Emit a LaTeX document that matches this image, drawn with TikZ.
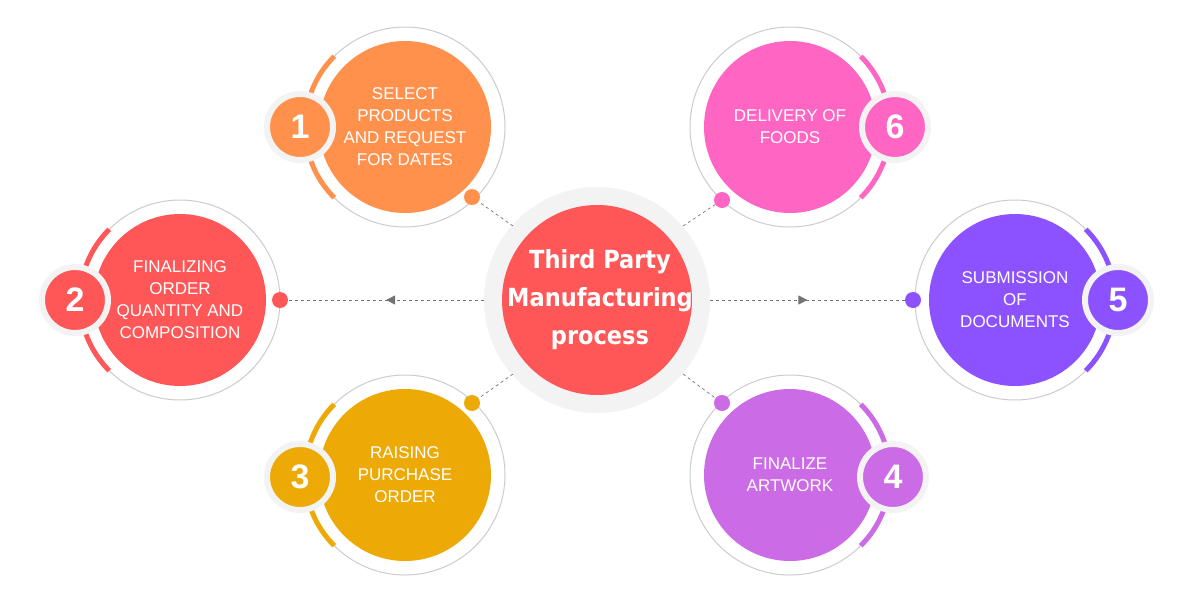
\documentclass[tikz,border=0pt]{standalone}
\usepackage{fontspec}
\setmainfont{Liberation Sans}
\newfontfamily\titlefont{DejaVu Sans Condensed}
\usetikzlibrary{arrows.meta,decorations.markings}
\definecolor{cOne}{HTML}{FF914D}
\definecolor{cTwo}{HTML}{FF5757}
\definecolor{cThree}{HTML}{EDA906}
\definecolor{cFour}{HTML}{CB6CE6}
\definecolor{cFive}{HTML}{8C52FF}
\definecolor{cSix}{HTML}{FF66C4}
\definecolor{ringgray}{HTML}{F3F3F3}
\tikzset{
 bigc/.style={circle,minimum size=172pt,inner sep=0pt,text=white,align=center,font=\fontsize{17}{22}\selectfont},
 numc/.style={circle,minimum size=66pt,inner sep=0pt,text=white,draw=ringgray,line width=6pt,font=\fontsize{34}{34}\selectfont\bfseries},
 dotc/.style={circle,minimum size=16pt,inner sep=0pt},
 ring/.style={draw=black!20,line width=1pt},
 conn/.style={draw=black!55,dashed,line width=0.7pt},
 arrmid/.style={postaction={decorate},decoration={markings,mark=at position 0.5 with {\arrow{Triangle[length=9pt,width=9pt]}}}}
}
\newcommand\leftarc[2]{\draw[#1,line width=5pt] (#2) ++(135:100) arc[start angle=135,end angle=225,radius=100];}
\newcommand\rightarc[2]{\draw[#1,line width=5pt] (#2) ++(-45:100) arc[start angle=-45,end angle=45,radius=100];}
\begin{document}
\begin{tikzpicture}[x=1pt,y=-1pt]
\useasboundingbox[fill=white] (0,0) rectangle (1200,600);
% center
\fill[ringgray] (597,300) circle (113);
\fill[cTwo] (597,300) circle (95);
\node[text=white,align=center,inner sep=0pt,font=\titlefont\bfseries\fontsize{25}{38}\selectfont] (ctr) at (600,300) {Third Party\\Manufacturing\\process};
% rings
\foreach \p in {(405,127),(180,300),(405,475),(790,127),(1015,300),(790,475)} \draw[ring] \p circle (100);
\leftarc{cOne}{405,127}
\leftarc{cTwo}{180,300}
\leftarc{cThree}{405,475}
\rightarc{cSix}{790,127}
\rightarc{cFive}{1015,300}
\rightarc{cFour}{790,475}
% big circles
\node[bigc,fill=cOne] (s1) at (405,127) {SELECT\\PRODUCTS\\AND REQUEST\\FOR DATES};
\node[bigc,fill=cTwo] (s2) at (180,300) {FINALIZING\\ORDER\\QUANTITY AND\\COMPOSITION};
\node[bigc,fill=cThree] (s3) at (405,475) {RAISING\\PURCHASE\\ORDER};
\node[bigc,fill=cSix] (s6) at (790,127) {DELIVERY OF\\FOODS};
\node[bigc,fill=cFive] (s5) at (1015,300) {SUBMISSION\\OF\\DOCUMENTS};
\node[bigc,fill=cFour] (s4) at (790,475) {FINALIZE\\ARTWORK};
% numbers
\node[numc,fill=cOne] (n1) at (300,127) {1};
\node[numc,fill=cTwo] (n2) at (75,300) {2};
\node[numc,fill=cThree] (n3) at (300,477) {3};
\node[numc,fill=cSix] (n6) at (895,127) {6};
\node[numc,fill=cFive] (n5) at (1118,300) {5};
\node[numc,fill=cFour] (n4) at (893,477) {4};
% dots
\node[dotc,fill=cOne] (d1) at (472,197) {};
\node[dotc,fill=cTwo] (d2) at (280,300) {};
\node[dotc,fill=cThree] (d3) at (472,403) {};
\node[dotc,fill=cSix] (d6) at (722,200) {};
\node[dotc,fill=cFive] (d5) at (913,300) {};
\node[dotc,fill=cFour] (d4) at (722,403) {};
% connectors
\coordinate (c2) at (484,300);
\coordinate (c5) at (710,300);
\coordinate (c1) at (513,226);
\coordinate (c3) at (513,374);
\coordinate (c6) at (683,226);
\coordinate (c4) at (683,374);
\draw[conn,arrmid,black!55] (c2) -- (d2);
\draw[conn,arrmid,black!55] (c5) -- (d5);
\draw[conn] (c1) -- (d1);
\draw[conn] (c3) -- (d3);
\draw[conn] (c6) -- (d6);
\draw[conn] (c4) -- (d4);
\end{tikzpicture}
\end{document}
